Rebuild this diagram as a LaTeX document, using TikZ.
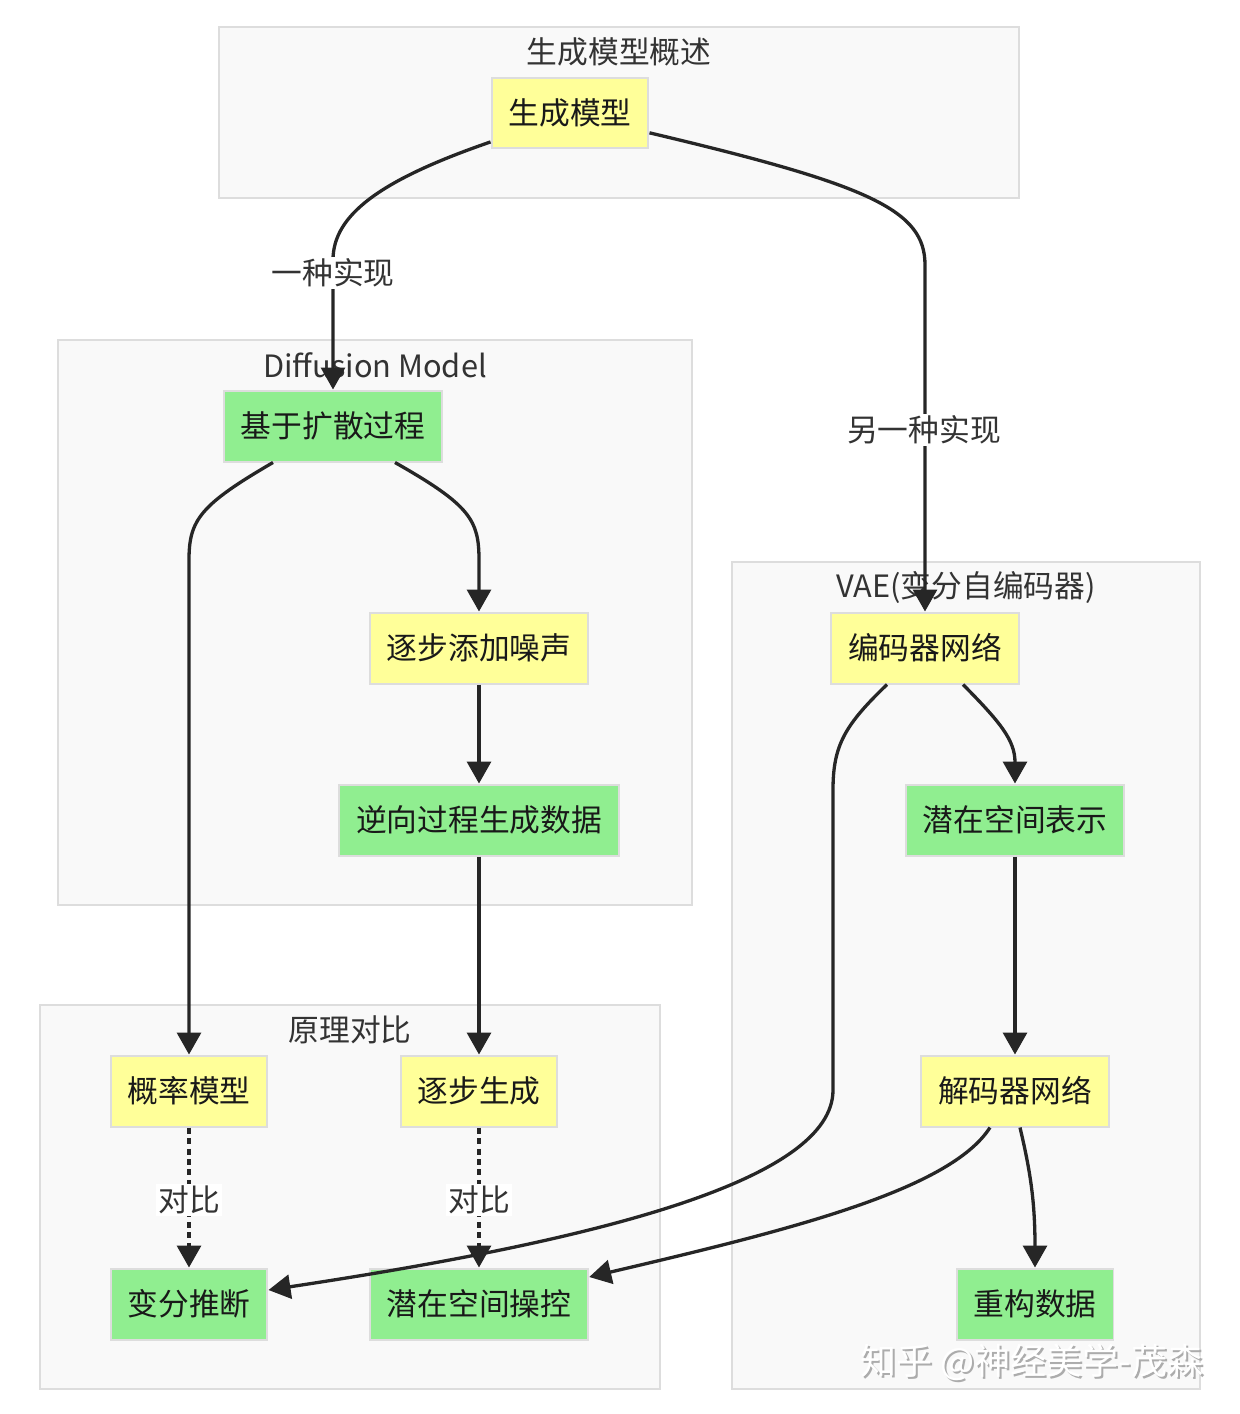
\documentclass[tikz,border=0pt]{standalone}
\usepackage{fontspec}
\setmainfont{Noto Sans CJK SC}
\usetikzlibrary{calc,arrows.meta}
\definecolor{nodeyellow}{HTML}{FFFF99}
\definecolor{nodegreen}{HTML}{90EE90}
\definecolor{boxgray}{HTML}{F9F9F9}
\definecolor{linegray}{HTML}{DDDDDD}
\definecolor{edgedark}{HTML}{262626}
\definecolor{titledark}{HTML}{333333}
\tikzset{
    % Two node styles for the flow: yellow and green boxes
    base node/.style={rectangle,draw=linegray,line width=0.04cm,minimum height=1.42cm,inner xsep=0.34cm,text=black!90},
    yellow node/.style={base node,fill=nodeyellow}, green node/.style={base node,fill=nodegreen},
    % Frames of the groups and their titles
    group/.style={draw=linegray,fill=boxgray,line width=0.04cm}, group label/.style={text=titledark,inner sep=0},
    % Connectors and their labels
    flow/.style={draw=edgedark,line width=0.066cm,-{Triangle[length=0.44cm,width=0.48cm]}},
    compare/.style={flow,dash pattern=on 0.12cm off 0.09cm},
    edge label/.style={fill=white,inner sep=0.04cm,text=titledark}
    }

\begin{document}
\begin{tikzpicture}[x=0.02cm,y=-0.02cm,font=\fontsize{17.5pt}{21pt}\selectfont] % pixel grid, y pointing down
        \useasboundingbox (0,0) rectangle (1240,1414);
        % The groups
        \draw[group] (219,27) rectangle (1019,198);
        \draw[group] (58,340) rectangle (692,905);
        \draw[group] (732,562) rectangle (1200,1389);
        \draw[group] (40,1005) rectangle (660,1389);
        \node(overview)[group label] at (619,52) {生成模型概述};
        \node(diffusion)[group label] at (375,365) {Diffusion Model};
        \node(vae)[group label] at (966,587) {VAE(变分自编码器)};
        \node(principle)[group label] at (350,1030) {原理对比};
        % The boxes
        \node(gen)[yellow node] at (570,113) {生成模型};
        \node(diff)[green node] at (333,426) {基于扩散过程};
        \node(noise)[yellow node] at (479,648) {逐步添加噪声};
        \node(reverse)[green node] at (479,820) {逆向过程生成数据};
        \node(enc)[yellow node] at (925,648) {编码器网络};
        \node(latent)[green node] at (1015,820) {潜在空间表示};
        \node(dec)[yellow node] at (1015,1091) {解码器网络};
        \node(recon)[green node] at (1035,1304) {重构数据};
        \node(prob)[yellow node] at (189,1091) {概率模型};
        \node(gradual)[yellow node] at (479,1091) {逐步生成};
        \node(vi)[green node] at (189,1304) {变分推断};
        \node(op)[green node] at (479,1304) {潜在空间操控};
        % The connectors
        \draw[flow] (gen.200) .. controls (380,180) and (diff.north |- 0,215) .. (diff.north |- 0,260) -- (diff.north);
        \draw[flow] (gen.-14) .. controls (870,185) and (enc.north |- 0,210) .. (enc.north |- 0,265) -- (enc.north);
        \draw[flow] ($(diff.south)+(-60,0)$) .. controls (200,505) and (prob.north |- 0,520) .. (prob.north |- 0,560) -- (prob.north);
        \draw[flow] ($(diff.south)+(62,0)$) .. controls (470,505) and (noise.north |- 0,520) .. (noise.north |- 0,560) -- (noise.north);
        \draw[flow] (noise.south) -- (reverse.north);
        \draw[flow] (reverse.south) -- (gradual.north);
        \draw[flow] ($(enc.south)+(38,0)$) .. controls (1000,722) and (latent.north |- 0,740) .. (latent.north);
        \draw[flow] ($(enc.south)+(-38,0)$) .. controls (845,725) and (833,745) .. (833,790) -- (833,1090)
            .. controls (833,1180) and (600,1240) .. ($(vi.east)+(0,-14)$);
        \draw[flow] (latent.south) -- (dec.north);
        \draw[flow] ($(dec.south)+(-25,0)$) .. controls (950,1190) and (790,1230) .. ($(op.east)+(0,-27)$);
        \draw[flow] ($(dec.south)+(5,0)$) .. controls (1030,1170) and (recon.north |- 0,1200) .. (recon.north);
        \draw[compare] (prob.south) -- (vi.north);
        \draw[compare] (gradual.south) -- (op.north);
        % labels on the connectors
        \node(one)[edge label] at (333,273) {一种实现};
        \node(other)[edge label] at (924,430) {另一种实现};
        \node(cmpa)[edge label] at (189,1200) {对比};
        \node(cmpb)[edge label] at (479,1200) {对比};
        % watermark
        \node(markshadow)[text=gray!65,font=\fontsize{20.5pt}{24pt}\selectfont] at (1034,1364) {知乎 @神经美学-茂森};
        \node(mark)[text=white,font=\fontsize{20.5pt}{24pt}\selectfont] at (1032,1362) {知乎 @神经美学-茂森};
    \end{tikzpicture}
\end{document}
